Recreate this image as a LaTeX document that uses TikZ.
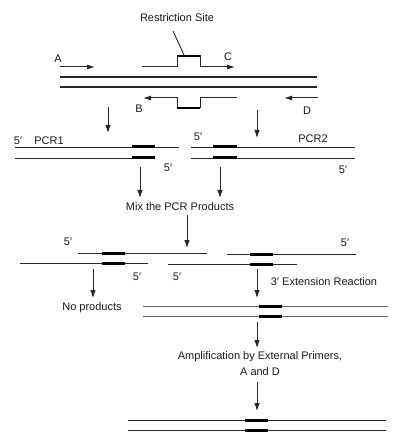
\documentclass[tikz,border=0pt]{standalone}
\usepackage{fontspec}
\setmainfont{Liberation Sans}
\usetikzlibrary{arrows.meta}
\begin{document}
\begin{tikzpicture}[x=1pt,y=-1pt,
  lbl/.style={font=\fontsize{11}{13}\selectfont, inner sep=0pt, text=black!90},
  thin/.style={line width=0.9pt, draw=black!85},
  dna/.style={line width=1.7pt, draw=black!85},
  site/.style={line width=3pt, draw=black},
  grayline/.style={line width=1pt, draw=black!60},
  flow/.style={line width=0.9pt, draw=black!85, -{Latex[length=8pt,width=5.5pt]}},
  primer/.style={line width=1pt, draw=black!85, -{Latex[length=8pt,width=5pt]}}]
\useasboundingbox (0,0) rectangle (404,443);
% --- top: template and primers
\node[lbl] (rs) at (177,18) {Restriction Site};
\coordinate (rsa) at (173,31);
\coordinate (rsb) at (184,55);
\draw[thin] (rsa) -- (rsb);
\node[lbl] (A) at (58,59) {A};
\node[lbl] (C) at (228,57) {C};
\node[lbl] (B) at (139,109) {B};
\node[lbl] (D) at (307,111) {D};
\draw[primer] (60,67) -- (95,67);
\draw[primer] (142,67) -- (177,67) -- (177,56) -- (200,56) -- (200,67) -- (235,67);
\draw[line width=2.2pt] (177,56) -- (200,56);
\draw[primer] (237,98) -- (200,98) -- (200,108) -- (177,108) -- (177,98) -- (143,98);
\draw[line width=2.2pt] (177,108) -- (200,108);
\draw[primer] (318,98) -- (284,98);
\draw[dna] (60,77) -- (317,77);
\draw[dna] (60,87) -- (317,87);
% arrows to PCR products
\coordinate (d1a) at (108,107); \coordinate (d1b) at (108,133);
\coordinate (d2a) at (257,110); \coordinate (d2b) at (257,138);
\draw[flow] (d1a) -- (d1b);
\draw[flow] (d2a) -- (d2b);
% --- PCR1 and PCR2
\node[lbl] (p1five) at (18,141) {5′};
\node[lbl] (p1) at (49,141) {PCR1};
\draw[thin] (15,147) -- (179,147);
\draw[thin] (15,158) -- (155,158);
\draw[site] (132,147) -- (155,147);
\draw[site] (132,158) -- (155,158);
\node[lbl] (p1fiveb) at (168,168) {5′};
\node[lbl] (p2five) at (198,137) {5′};
\node[lbl] (p2) at (313,139) {PCR2};
\draw[thin] (191,147) -- (355,147);
\draw[thin] (191,158) -- (355,158);
\draw[site] (213,147) -- (237,147);
\draw[site] (213,158) -- (237,158);
\node[lbl] (p2fiveb) at (343,170) {5′};
\coordinate (m1a) at (140,167); \coordinate (m1b) at (140,198);
\coordinate (m2a) at (220,167); \coordinate (m2b) at (220,198);
\draw[flow] (m1a) -- (m1b);
\draw[flow] (m2a) -- (m2b);
\node[lbl] (mix) at (180,207) {Mix the PCR Products};
\coordinate (m3b) at (187,248);
\draw[flow] (mix.south -| m3b) ++(0,4) -- (m3b);
% --- mixed strands
\node[lbl] (l5a) at (68,242) {5′};
\node[lbl] (r5a) at (345,243) {5′};
\draw[thin] (78,253) -- (207,253);
\draw[thin] (20,263) -- (148,263);
\draw[site] (102,253) -- (125,253);
\draw[site] (102,263) -- (125,263);
\node[lbl] (l5b) at (137,277) {5′};
\node[lbl] (r5b) at (177,277) {5′};
\draw[thin] (227,254) -- (356,254);
\draw[thin] (168,264) -- (297,264);
\draw[site] (250,254) -- (273,254);
\draw[site] (250,264) -- (273,264);
\coordinate (n1a) at (93,269); \coordinate (n1b) at (93,298);
\draw[flow] (n1a) -- (n1b);
\node[lbl] (nop) at (92,308) {No products};
\coordinate (e1a) at (257,269); \coordinate (e1b) at (257,298);
\draw[flow] (e1a) -- (e1b);
\node[lbl] (ext) at (324,282) {3′ Extension Reaction};
% --- extension product
\draw[grayline] (143,306) -- (388,306);
\draw[grayline] (143,316) -- (388,316);
\draw[site] (259,306) -- (282,306);
\draw[site] (259,316) -- (282,316);
\coordinate (a1a) at (257,322); \coordinate (a1b) at (257,348);
\draw[flow] (a1a) -- (a1b);
\node[lbl] (amp) at (260,357) {Amplification by External Primers,};
\node[lbl] (aad) at (260,372) {A and D};
\coordinate (a2a) at (257,382); \coordinate (a2b) at (257,411);
\draw[flow] (a2a) -- (a2b);
% --- final product
\draw[thin] (128,420) -- (386,420);
\draw[thin] (128,430) -- (386,430);
\draw[site] (245,420) -- (268,420);
\draw[site] (245,430) -- (268,430);
\end{tikzpicture}
\end{document}
